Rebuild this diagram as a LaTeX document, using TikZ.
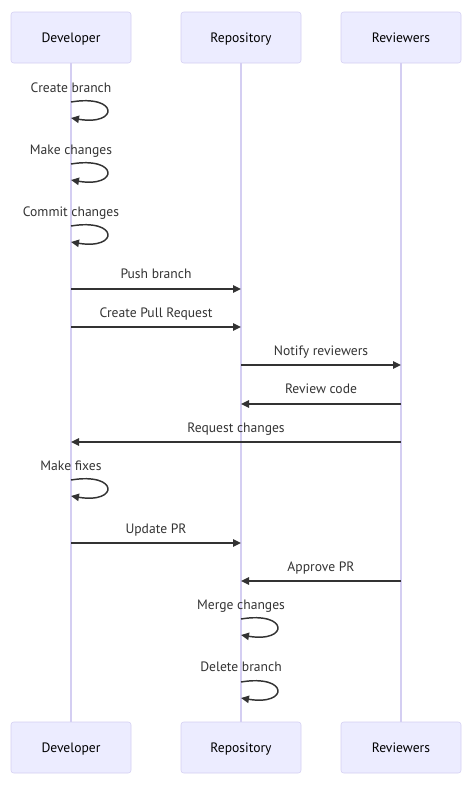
\documentclass[tikz,border=0pt]{standalone}
\usepackage{fontspec}
\setmainfont{PT Sans}
\usetikzlibrary{arrows.meta}
\definecolor{actorfill}{RGB}{236,236,255}
\definecolor{actorline}{RGB}{212,206,242}
\definecolor{msgline}{RGB}{51,51,51}

\begin{document}
\begin{tikzpicture}[x=0.75pt,y=0.75pt,yscale=-1,xscale=1,
  actor/.style={draw=actorline,fill=actorfill,rounded corners=2pt,minimum width=90pt,minimum height=38.25pt,inner sep=0pt,font=\fontsize{10.2}{12}\selectfont,text=black,text height=8.8pt,text depth=0.8pt},
  lifeline/.style={draw=actorline,line width=1.1pt},
  msg/.style={draw=msgline,line width=1.1pt,-{Triangle[length=6pt,width=5.5pt]}},
  msglabel/.style={inner sep=0pt,font=\fontsize{10.2}{12}\selectfont,text=msgline,text height=7.3pt,text depth=2.3pt,yshift=-1.4pt}]
\useasboundingbox (0,0) rectangle (474,786);

%Shape: Actors top
\node [actor] (devT) at (71,37.5) {Developer};
\node [actor] (repoT) at (241,37.5) {Repository};
\node [actor] (revT) at (401,37.5) {Reviewers};
%Shape: Actors bottom
\node [actor] (devB) at (71,747.5) {Developer};
\node [actor] (repoB) at (241,747.5) {Repository};
\node [actor] (revB) at (401,747.5) {Reviewers};

%Straight Lines: lifelines
\draw [lifeline] (devT.south) -- (devB.north);
\draw [lifeline] (repoT.south) -- (repoB.north);
\draw [lifeline] (revT.south) -- (revB.north);

%Curve Lines: Create branch
\coordinate (cbA) at (71,102);
\coordinate (cbB) at (71,118);
\draw [msg] (cbA) .. controls +(48,-8) and +(48,8) .. (cbB);
\node [msglabel] (cbL) at (71,87.5) {Create branch};
%Curve Lines: Make changes
\coordinate (mcA) at (71,164);
\coordinate (mcB) at (71,180);
\draw [msg] (mcA) .. controls +(48,-8) and +(48,8) .. (mcB);
\node [msglabel] (mcL) at (71,149.5) {Make changes};
%Curve Lines: Commit changes
\coordinate (ccA) at (71,226);
\coordinate (ccB) at (71,242);
\draw [msg] (ccA) .. controls +(48,-8) and +(48,8) .. (ccB);
\node [msglabel] (ccL) at (71,211.5) {Commit changes};

%Straight Lines: Push branch
\coordinate (pbA) at (71,289);
\coordinate (pbB) at (241,289);
\draw [msg] (pbA) -- (pbB);
\node [msglabel] (pbL) at (156,273.5) {Push branch};
%Straight Lines: Create Pull Request
\coordinate (prA) at (71,327);
\coordinate (prB) at (241,327);
\draw [msg] (prA) -- (prB);
\node [msglabel] (prL) at (156,312) {Create Pull Request};
%Straight Lines: Notify reviewers
\coordinate (nrA) at (241,365);
\coordinate (nrB) at (401,365);
\draw [msg] (nrA) -- (nrB);
\node [msglabel] (nrL) at (321,350.5) {Notify reviewers};
%Straight Lines: Review code
\coordinate (rcA) at (401,404);
\coordinate (rcB) at (241,404);
\draw [msg] (rcA) -- (rcB);
\node [msglabel] (rcL) at (321,388.5) {Review code};
%Straight Lines: Request changes
\coordinate (rqA) at (401,442);
\coordinate (rqB) at (71,442);
\draw [msg] (rqA) -- (rqB);
\node [msglabel] (rqL) at (236,427) {Request changes};

%Curve Lines: Make fixes
\coordinate (mfA) at (71,480);
\coordinate (mfB) at (71,496);
\draw [msg] (mfA) .. controls +(48,-8) and +(48,8) .. (mfB);
\node [msglabel] (mfL) at (71,465.5) {Make fixes};

%Straight Lines: Update PR
\coordinate (upA) at (71,543);
\coordinate (upB) at (241,543);
\draw [msg] (upA) -- (upB);
\node [msglabel] (upL) at (156,528) {Update PR};
%Straight Lines: Approve PR
\coordinate (apA) at (401,581);
\coordinate (apB) at (241,581);
\draw [msg] (apA) -- (apB);
\node [msglabel] (apL) at (321,566.5) {Approve PR};

%Curve Lines: Merge changes
\coordinate (mgA) at (241,619);
\coordinate (mgB) at (241,635);
\draw [msg] (mgA) .. controls +(48,-8) and +(48,8) .. (mgB);
\node [msglabel] (mgL) at (241,604.5) {Merge changes};
%Curve Lines: Delete branch
\coordinate (dbA) at (241,682);
\coordinate (dbB) at (241,698);
\draw [msg] (dbA) .. controls +(48,-8) and +(48,8) .. (dbB);
\node [msglabel] (dbL) at (241,666.5) {Delete branch};

\end{tikzpicture}
\end{document}
